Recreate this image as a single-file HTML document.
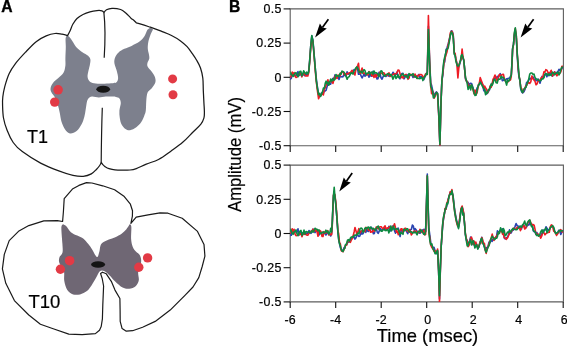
<!DOCTYPE html>
<html><head><meta charset="utf-8"><title>Figure</title>
<style>html,body{margin:0;padding:0;background:#fff;}body{width:567px;height:347px;overflow:hidden;}svg{display:block;}</style>
</head><body>
<svg width="567" height="347" viewBox="0 0 567 347" font-family="'Liberation Sans', Arial, sans-serif">
<defs><clipPath id="c1"><rect x="290.2" y="5.9" width="273.2" height="139.8"/></clipPath><clipPath id="c2"><rect x="290.2" y="162.1" width="273.2" height="139.8"/></clipPath></defs>
<rect width="567" height="347" fill="#fff"/>
<path d="M66.9,35.3 C66.9,35.3 68,35.6 68.9,36.5 C69.8,37.4 71,39.1 72.3,40.9 C73.6,42.7 74.9,45.6 76.6,47.5 C78.3,49.4 80.5,50.8 82.4,52.2 C84.3,53.6 86.8,54.6 88.1,55.8 C89.4,57 90.1,58 90.4,59.6 C90.7,61.2 90.1,63.4 89.8,65.3 C89.5,67.2 88.8,69.1 88.4,71.1 C88,73 87.4,75.3 87.6,77 C87.8,78.7 88.4,80.2 89.5,81.2 C90.6,82.2 91.9,82.9 94,83.3 C96.1,83.7 99.5,83.8 102.3,83.8 C105.1,83.8 108.7,83.5 111,83.3 C113.3,83.1 115,83.3 116.2,82.5 C117.4,81.7 118,80.2 118.1,78.3 C118.2,76.4 117.4,73.5 116.8,71 C116.2,68.5 114.7,65.5 114.4,63.2 C114.1,60.9 114.5,59.1 115.2,57.3 C115.9,55.5 117.1,53.8 118.6,52.4 C120.1,51 122.2,49.9 124.4,48.8 C126.6,47.7 129.1,47.1 131.6,45.9 C134.1,44.7 137.3,43.3 139.5,41.6 C141.7,39.9 143.2,37.9 144.6,35.9 C145.9,33.9 146.6,30.9 147.6,29.6 C148.6,28.3 150.3,27.9 150.3,27.9 C150.3,27.9 152.9,28.1 152.9,29.2 C152.9,30.3 151.3,32.3 150.6,34.4 C149.8,36.5 148.9,39.2 148.4,41.6 C147.9,44 147.7,46.7 147.8,48.8 C147.9,50.9 148.7,52.6 148.9,54.2 C149.2,55.8 149.5,57 149.3,58.4 C149.1,59.8 147.8,61.4 147.5,62.8 C147.2,64.1 147,65.2 147.6,66.5 C148.2,67.8 149.6,68.9 150.8,70.5 C152,72.1 153.8,74.3 154.6,76.3 C155.4,78.3 155.9,80.3 155.4,82.3 C154.9,84.3 153.1,86.5 151.8,88.2 C150.5,89.9 148.5,90.4 147.6,92.4 C146.7,94.5 146.6,97.5 146.3,100.5 C146,103.5 146.2,108 145.8,110.6 C145.5,113.2 144.9,114.1 144.2,116 C143.4,117.9 142.6,120.2 141.3,122.1 C140,124 138.2,125.9 136.3,127.2 C134.4,128.6 131.8,129.9 130,130.2 C128.2,130.5 126.9,129.9 125.5,129 C124.1,128.1 122.5,126.3 121.6,124.5 C120.6,122.7 120.2,120.3 119.8,118 C119.4,115.7 119.2,113.1 119.4,110.6 C119.6,108.1 120.8,105 120.8,103 C120.8,101 120.2,99.4 119.4,98.4 C118.6,97.4 117.1,97.3 116,97 C114.9,96.7 114.4,96.6 112.7,96.5 C111,96.4 108.1,96.3 105.8,96.5 C103.5,96.7 101.1,97.4 98.8,97.4 C96.5,97.4 93.8,96.3 92,96.5 C90.2,96.7 89.1,97.6 88.2,98.8 C87.3,100 87,101.6 86.6,103.5 C86.2,105.4 86,107.8 85.6,110 C85.2,112.2 85,114.6 84.3,117 C83.6,119.4 82.9,121.9 81.6,124.2 C80.3,126.5 78.5,129.5 76.6,131 C74.7,132.5 72.2,133.5 70.4,133.4 C68.6,133.3 67.1,132.1 65.6,130.2 C64.1,128.3 62.6,124.9 61.6,122 C60.6,119.1 60.3,115.5 59.8,113 C59.3,110.5 58.9,108.8 58.4,107 C57.9,105.2 57.6,104.2 57,102.5 C56.4,100.8 55.6,98.7 54.7,97 C53.8,95.3 52.1,93.7 51.4,92.2 C50.7,90.7 50.3,89.5 50.6,87.9 C50.9,86.4 51.7,84.6 53,82.9 C54.3,81.2 56.8,79.5 58.6,77.8 C60.4,76.1 62.5,74.5 63.6,72.5 C64.7,70.5 65.1,67.9 65.4,65.5 C65.7,63.1 65.3,61.1 65.4,58 C65.5,54.9 65.8,49.9 65.8,46.6 C65.8,43.4 65.4,40.4 65.6,38.5 C65.8,36.6 66.9,35.3 66.9,35.3Z" fill="#7d808d"/>
<path d="M103.9,12.6 C103.9,12.6 105.2,10.5 106.5,9.8 C107.8,9.1 109.7,8.4 112,8.3 C114.3,8.2 118.3,8.7 120.6,9.5 C122.9,10.3 124.1,11.6 125.8,13 C127.5,14.4 129.6,16.9 131,18.2 C132.4,19.4 133.1,19.7 134,20.5 C134.9,21.3 136.3,22.8 136.3,22.8 C136.3,22.8 139.4,23.6 141.7,24.3 C144,25 147.1,26.1 150.3,27.2 C153.6,28.3 157.7,29.8 161.2,31.2 C164.7,32.6 168.3,33.9 171.5,35.5 C174.7,37.1 177.6,38.8 180.2,40.7 C182.8,42.6 185.1,44.5 187.1,46.7 C189.1,48.9 190.7,51.4 192.3,53.7 C193.9,56 195.4,58.1 196.8,60.5 C198.2,62.9 199.5,65.1 200.5,68 C201.5,70.9 202.3,74.3 202.8,78 C203.3,81.7 203.1,86.3 203.3,90.4 C203.5,94.5 203.7,98.9 203.9,102.5 C204.1,106.1 204.4,109.4 204.4,112 C204.4,114.6 204.5,116.1 203.9,118.1 C203.3,120.1 202.8,121.8 200.9,124.1 C199.1,126.4 195.8,129.2 192.8,132.2 C189.8,135.2 186.4,139.1 182.7,142.3 C179,145.5 174.6,148.5 170.6,151.4 C166.6,154.3 162.6,157.4 158.5,159.5 C154.4,161.6 150,162.6 146.3,164.1 C142.6,165.6 139,167.6 136.3,168.6 C133.6,169.6 132.4,169.8 130,170 C127.6,170.2 124.6,170 122.1,170 C119.6,170 117.2,170 115,169.8 C112.8,169.6 110.7,169.1 109,168.6 C107.3,168.1 106.1,167.3 105,166.6 C103.9,165.9 103.2,165.1 102.6,164.4 C102,163.7 101.2,162.4 101.2,162.4 C101.2,162.4 100.5,164.4 99.7,165.5 C98.9,166.6 98,167.8 96.6,169.2 C95.2,170.6 93.5,172.7 91.3,173.9 C89.1,175.1 86.2,176.1 83.2,176.3 C80.2,176.5 77.1,176.2 73,175.3 C68.9,174.4 64.2,172.9 58.8,170.9 C53.4,168.9 46.7,166.3 40.6,163.1 C34.5,159.9 26.9,155 22.3,151.6 C17.7,148.2 15.7,146.1 13.2,142.5 C10.7,138.9 8.7,134.4 7.1,130.3 C5.5,126.2 4.2,122 3.5,118 C2.8,114 2.7,109.5 2.6,106 C2.5,102.5 2.4,100.2 2.8,97 C3.1,93.8 3.7,90.7 4.7,86.8 C5.8,82.9 7.3,77.7 9.1,73.8 C10.9,69.9 12.8,67.1 15.6,63.4 C18.4,59.7 22.5,55.4 26,51.7 C29.5,48.1 33.1,44.1 36.5,41.5 C39.9,38.9 43.1,37.2 46.2,35.9 C49.3,34.6 52.4,33.8 55,33.5 C57.6,33.2 59.9,33.9 62,34.2 C64.1,34.6 67.6,35.6 67.6,35.6 C67.6,35.6 69.2,32.7 70.1,30.8 C71,28.9 71.6,26.4 72.8,24.3 C74,22.2 75.3,20.1 77,18.5 C78.7,16.9 80.8,15.6 83,14.5 C85.2,13.4 87.7,12.5 90,11.8 C92.3,11.2 95,10.8 97,10.6 C99,10.4 100.8,10.5 102,10.8 C103.2,11.1 103.9,12.6 103.9,12.6Z" fill="none" stroke="#1a1a1a" stroke-width="1.25" stroke-linejoin="round"/>
<path d="M103.9,12.6 C105.3,25 105.2,42 104.2,57.8" fill="none" stroke="#1a1a1a" stroke-width="1.2"/>
<path d="M102.3,107.8 C101.7,125 101.3,150 101.2,162.4" fill="none" stroke="#1a1a1a" stroke-width="1.2"/>
<ellipse cx="103.2" cy="89.2" rx="6.9" ry="3.5" fill="#141414"/>
<circle cx="58.1" cy="89.8" r="4.8" fill="#e23a45"/>
<circle cx="54.7" cy="102.1" r="4.7" fill="#e23a45"/>
<circle cx="172.6" cy="78.9" r="4.5" fill="#e23a45"/>
<circle cx="173.0" cy="94.8" r="4.5" fill="#e23a45"/>
<path d="M62.9,224.3 C62.9,224.3 64.8,224.8 66.1,226.1 C67.4,227.4 69.1,230.6 70.9,232.2 C72.8,233.8 75.1,234.5 77.2,235.6 C79.3,236.7 81.7,237.4 83.5,238.8 C85.3,240.2 86.8,242.3 88.3,244.1 C89.8,245.9 91.1,247.8 92.3,249.7 C93.5,251.5 94.5,254 95.4,255.2 C96.3,256.4 96.9,257.4 97.6,256.8 C98.3,256.2 98.9,253.3 99.4,251.5 C99.9,249.7 99.8,247.4 100.4,245.9 C101,244.4 101.4,243.7 102.8,242.6 C104.2,241.5 106.8,240.5 108.9,239.6 C111,238.7 113.2,238.2 115.3,237.2 C117.4,236.2 119.8,235.1 121.6,233.8 C123.4,232.5 125.1,230.9 126.4,229.3 C127.7,227.7 129.6,224.3 129.6,224.3 C129.6,224.3 131.1,224.1 131.3,226.5 C131.6,228.9 130.9,235.4 131.1,238.8 C131.3,242.2 131.9,244.6 132.7,246.7 C133.5,248.8 134.7,250.1 135.9,251.5 C137.1,252.9 139.1,253.6 140,255.4 C140.9,257.2 141.4,259.6 141.1,262.3 C140.8,265 138.6,268.5 138.2,271.5 C137.8,274.5 139.2,277.8 138.8,280.2 C138.4,282.6 137.2,284.8 135.6,286.2 C134,287.6 131.4,288.6 129.2,288.8 C127,289 124.9,288.8 122.6,287.6 C120.3,286.4 117.4,283.5 115.2,281.5 C113,279.5 111.4,277.2 109.6,275.5 C107.8,273.8 106.2,271.9 104.6,271.2 C103,270.5 101.2,270.1 99.8,271.2 C98.4,272.3 97.6,275.2 96.2,277.6 C94.8,280 93,283.1 91.5,285.4 C90,287.6 88.8,289.6 86.9,291.1 C85,292.6 82.3,293.8 80,294.4 C77.7,294.9 75.2,295.1 73.1,294.4 C71,293.7 68.8,292.2 67.3,290 C65.8,287.8 64.9,284.2 64.3,281 C63.7,277.8 64.7,274 63.9,271 C63.1,268 60.1,265.2 59.4,263 C58.6,260.8 58.9,259.2 59.4,257.5 C59.9,255.8 62,254.8 62.5,252.5 C63,250.2 62.6,247.6 62.4,243.8 C62.2,240.1 61.5,233 61.4,230 C61.3,227 61.4,226.9 61.6,226 C61.9,225.1 62.9,224.3 62.9,224.3Z" fill="#6f6774"/>
<path d="M62.6,221.5 L63.4,211.8 L64.2,198.6 L72.4,189.1 L78.9,185.4 L86.5,182.6 L91.9,183 L102.7,185.8 L114.6,189.7 L124.3,196.6 L130.4,204.2 L132.5,210.7 L132.4,216.1 L130.9,223.4 L136.2,217.1 L148.1,214.8 L160,212.8 L168,213.2 L182.2,218.2 L197.5,231.4 L204,244.4 L204.9,256.1 L202.2,266.5 L198.8,277.6 L193,287 L185.2,295.1 L170.2,310.1 L155.2,321.4 L142.6,327.2 L132.6,330.7 L126.3,331.2 L122.1,328.6 L120.2,321.4 L120.1,310.1 L119.9,298.5 L115,290.1 L111.3,281.3 L106.3,273.8 L102.5,272.2 L100.6,273.6 L102.2,278.5 L103.6,286 L102.8,305 L102.4,318.8 L101.2,326.5 L99.5,330.2 L95.4,333.6 L82.1,334.7 L68.8,334.1 L53.2,328.8 L40.4,324.2 L28.8,315 L14.4,300.6 L5.8,283.3 L2.4,268.8 L4.3,254.4 L9.2,240.6 L18.5,231.3 L28.8,225.6 L43.8,220.9 L57.3,220.6Z" fill="none" stroke="#1a1a1a" stroke-width="1.2" stroke-linejoin="round"/>
<ellipse cx="98.1" cy="264.5" rx="7" ry="3.3" fill="#141414"/>
<circle cx="69.6" cy="260.7" r="4.8" fill="#e23a45"/>
<circle cx="60.4" cy="269.2" r="4.7" fill="#e23a45"/>
<circle cx="147.6" cy="257.9" r="4.7" fill="#e23a45"/>
<circle cx="138.8" cy="267.3" r="4.7" fill="#e23a45"/>
<path d="M290.2,8.9 H563.4 V145.7 H290.2 Z" fill="none" stroke="#5e5e5e" stroke-width="1.1"/>
<line x1="283.6" y1="8.9" x2="290.2" y2="8.9" stroke="#111" stroke-width="1.1"/>
<line x1="283.6" y1="43.1" x2="290.2" y2="43.1" stroke="#111" stroke-width="1.1"/>
<line x1="283.6" y1="77.3" x2="290.2" y2="77.3" stroke="#111" stroke-width="1.1"/>
<line x1="283.6" y1="111.5" x2="290.2" y2="111.5" stroke="#111" stroke-width="1.1"/>
<line x1="283.6" y1="145.7" x2="290.2" y2="145.7" stroke="#111" stroke-width="1.1"/>
<line x1="290.2" y1="145.7" x2="290.2" y2="151.9" stroke="#111" stroke-width="1.1"/>
<line x1="335.7" y1="145.7" x2="335.7" y2="151.9" stroke="#111" stroke-width="1.1"/>
<line x1="381.2" y1="145.7" x2="381.2" y2="151.9" stroke="#111" stroke-width="1.1"/>
<line x1="426.7" y1="145.7" x2="426.7" y2="151.9" stroke="#111" stroke-width="1.1"/>
<line x1="472.2" y1="145.7" x2="472.2" y2="151.9" stroke="#111" stroke-width="1.1"/>
<line x1="517.7" y1="145.7" x2="517.7" y2="151.9" stroke="#111" stroke-width="1.1"/>
<line x1="563.2" y1="145.7" x2="563.2" y2="151.9" stroke="#111" stroke-width="1.1"/>
<path d="M290.2,165.1 H563.4 V301.9 H290.2 Z" fill="none" stroke="#5e5e5e" stroke-width="1.1"/>
<line x1="283.6" y1="165.1" x2="290.2" y2="165.1" stroke="#111" stroke-width="1.1"/>
<line x1="283.6" y1="199.3" x2="290.2" y2="199.3" stroke="#111" stroke-width="1.1"/>
<line x1="283.6" y1="233.5" x2="290.2" y2="233.5" stroke="#111" stroke-width="1.1"/>
<line x1="283.6" y1="267.7" x2="290.2" y2="267.7" stroke="#111" stroke-width="1.1"/>
<line x1="283.6" y1="301.9" x2="290.2" y2="301.9" stroke="#111" stroke-width="1.1"/>
<line x1="290.2" y1="301.9" x2="290.2" y2="308.1" stroke="#111" stroke-width="1.1"/>
<line x1="335.7" y1="301.9" x2="335.7" y2="308.1" stroke="#111" stroke-width="1.1"/>
<line x1="381.2" y1="301.9" x2="381.2" y2="308.1" stroke="#111" stroke-width="1.1"/>
<line x1="426.7" y1="301.9" x2="426.7" y2="308.1" stroke="#111" stroke-width="1.1"/>
<line x1="472.2" y1="301.9" x2="472.2" y2="308.1" stroke="#111" stroke-width="1.1"/>
<line x1="517.7" y1="301.9" x2="517.7" y2="308.1" stroke="#111" stroke-width="1.1"/>
<line x1="563.2" y1="301.9" x2="563.2" y2="308.1" stroke="#111" stroke-width="1.1"/>
<g clip-path="url(#c1)">
<polyline points="289.5,76.3 290.4,79.2 291.3,78.3 292.2,74.6 293.2,74.6 294.1,74.5 295,75.4 296,75.1 297,74.9 298,71.6 299,75.7 300,74.1 300.9,75 301.8,73.9 302.8,73.4 303.7,74.9 304.6,75.6 305.5,74.3 306.6,74 307.8,74.1 308.7,70.6 309.6,61.5 310.7,46.6 311.8,35.8 312.9,39.9 314,52.7 315.2,67.5 316.3,78.6 317.4,87 318.6,94.4 319.6,96.5 320.5,95.9 321.5,92.9 322.5,93.8 323.4,93.1 324.4,90.5 325.3,90.9 326.1,90.2 327,86.9 327.9,84 328.7,84.9 329.6,83.9 330.7,84.1 331.8,79.9 332.9,78.4 334,78.6 335,74.9 336,77.5 337,77.8 338,76.6 339,79.4 340,76.4 341,76.6 342,76.9 343,76.8 344,73.9 345,75.7 346.1,75.9 347.1,71.8 348.2,74.2 349.2,73.8 350.3,73.7 351.2,72.2 352.1,72 353.1,70.6 354,69.7 354.9,70.3 355.9,68.5 356.8,67.9 357.7,69.5 358.5,74.3 359.4,74.1 360.3,73.8 361.2,76.2 362.1,78 363,76.1 364,73.7 365,76.2 366,75.4 367,74 368,74.8 369,77.2 370,74 371,76.3 372,76.2 373,71.3 374,72.5 375,74.3 376,75.7 377,79 378,78.7 379,72.3 380,73.8 381,77.8 382,79.2 383,76.9 384,75.2 385,76.2 386,76.5 387,75.7 388,74.9 389,76.2 390,76.2 391,75.6 392,75.1 393,72.3 394,73.8 395,75.1 396,74.4 397,72 398,76.9 399,77 400,78.9 401,75.1 402,73.5 403,73.3 404,78.9 405,77.3 406,75.6 407,74.6 408,76.7 409,74.5 410,74.8 411,74.9 412,75.1 413,77.4 414,76.2 415,76.9 416,76 417,76.3 418,75.9 419,74.4 420,78.1 421,76.5 422,76.8 422.9,78.3 423.8,79.6 424.6,77.8 425.5,75.5 426.4,73.2 427.3,72.1 428.4,26.2 429.6,59.9 430.7,82.8 431.6,85.3 432.5,89.6 433.4,93.3 434.2,95.7 435.5,92.8 436.5,91.9 437.6,93.7 438.8,116 439.9,145.7 441,101.2 441.9,80.3 442.9,74.8 443.9,61.6 444.7,62.1 445.5,54.4 446.3,49.4 447.1,47.6 448.2,43.9 449.3,39.2 450.3,35.7 451.3,30.8 452.2,31.2 453.2,34.7 454.3,53.3 455.1,55.2 455.8,58.7 456.9,63.5 457.9,68.2 459.2,65.9 460.3,61.8 461.2,58.2 462.1,56.9 463,57.9 463.8,60.7 464.7,69.7 465.5,79.1 466.4,80.9 467.2,81.9 468.1,82.2 469,86.3 469.9,83.6 470.7,83.4 471.6,83.5 472.9,87.4 474.1,91.9 475,91 475.9,93 477.1,87.9 478.4,86.1 479.3,83.7 480.2,81 481.6,83.1 482.7,84.4 483.8,90.8 484.7,89.4 485.6,93.1 486.6,93.9 487.5,92.9 488.4,91.5 489.4,90.1 490.3,86.4 491.2,84.9 492.1,84.1 493,81.5 493.9,79 495,78.1 496.1,78.5 497.2,76.3 498.3,77.4 499.3,75.3 500.2,73.7 501.2,75.7 502.3,80.7 503.4,80.2 504.4,79 505.5,80.5 506.6,78.7 507.6,78.5 508.7,78.2 509.8,77.9 510.6,76 511.3,74.5 512.1,60.8 512.6,48.3 513.5,43.9 514.4,34.8 515.3,30.6 516.3,38 517.3,56 518.1,69.1 519,77.2 519.9,80.1 520.8,89.3 521.8,92 522.7,93 523.9,91.8 525,89.5 525.9,85.5 526.7,82.3 527.6,83.1 528.7,80.1 529.8,78.5 530.8,79 531.9,76.6 532.9,76.8 534,79 535,79.4 536,80.4 537,80.9 538,79 539,80.3 540,83.2 541,79.5 542,76.4 542.9,76.9 543.9,77.2 544.8,74.5 545.8,74 546.9,76.8 548,73.5 549,75.7 550.1,74.9 551.2,72.6 552.4,76.2 553.5,74.5 554.6,71.8 555.8,74.2 556.9,72.4 558,71.4 559,69.3 560,70.4 560.9,70.3 561.9,68.5 562.9,66.7" fill="none" stroke="#2a44b0" stroke-width="1.6" stroke-linejoin="round"/>
<polyline points="289.5,77.1 290.4,77.5 291.3,75.7 292.2,72 293.2,74.9 294.1,72.5 295,76.3 296,77.4 297,77 298,75.8 299,74.2 300,73.1 300.9,73.5 301.8,76.9 302.8,74.5 303.7,74.2 304.6,73.5 305.5,75.9 306.6,75.8 307.8,76 308.7,72.8 309.6,63.1 310.7,48.5 311.8,37.8 312.9,41.5 314,54.6 315.2,70.2 316.3,81.6 317.4,90.6 318.6,98.8 319.6,95.9 320.5,96 321.5,93.9 322.5,94.1 323.4,94.9 324.4,88.5 325.3,87.8 326.1,85.3 327,83.2 327.9,79.7 328.7,83.3 329.6,81.7 330.7,81.2 331.8,81.4 332.9,83.5 334,79.5 335,76.4 336,77.4 337,78.5 338,75 339,75.6 340,76 341,72.7 342,72.1 343,71.5 344,74.6 345,73.5 346.1,75.2 347.1,73.4 348.2,73.7 349.2,72.7 350.3,72.5 351.2,71.5 352.1,70.3 353.1,73.5 354,72.5 354.9,75 355.9,69.5 356.8,67.1 357.7,65.6 358.5,63.3 359.4,72.5 360.3,73.5 361.2,70.7 362.1,68.1 363,73.1 364,73 365,73.7 366,74 367,74.6 368,74.8 369,71.5 370,72.8 371,73.9 372,76 373,73.7 374,77.5 375,74.9 376,77.1 377,73.7 378,75.8 379,75.6 380,72 381,73.4 382,73.4 383,72.8 384,72.8 385,74.9 386,74.6 387,75.5 388,73.7 389,72.8 390,76.5 391,75 392,74.7 393,74.7 394,73.6 395,74.3 396,73.8 397,72.7 398,70 399,70.3 400,73.5 401,77.8 402,76.3 403,78.2 404,76.8 405,74.7 406,74.4 407,76.7 408,79.3 409,78.2 410,74.2 411,74.2 412,75.2 413,74.4 414,76.8 415,74 416,76.1 417,78.5 418,75.2 419,75.4 420,74.6 421,74.6 422,75 422.9,76.7 423.8,78.3 424.6,75.9 425.5,74 426.4,73.7 427.3,74.5 428.4,15.6 429.6,61.4 430.7,85.8 431.6,93.7 432.5,91.2 433.4,94.8 434.2,98.2 435.5,95.3 436.5,92.5 437.6,94.5 438.8,116.2 439.9,145.7 441,103.2 441.9,80.5 442.9,72.4 443.9,63.3 444.7,59.3 445.5,56.5 446.3,53.9 447.1,51.4 448.2,45 449.3,40.3 450.3,33 451.3,31.4 452.2,31.6 453.2,35.1 454.3,52.9 455.1,53.2 455.8,58.2 456.9,64.4 457.9,77.9 459.2,63.9 460.3,61.2 461.2,59 462.1,49.1 463,57 463.8,60.2 464.7,70.1 465.5,78.2 466.4,81 467.2,81.5 468.1,85 469,87.5 469.9,85.3 470.7,85.7 471.6,85.4 472.9,89.4 474.1,93.9 475,90 475.9,94.9 477.1,92.6 478.4,85.1 479.3,83.7 480.2,77.6 481.6,81.3 482.7,84.2 483.8,88.5 484.7,86.1 485.6,88.1 486.6,89.3 487.5,92.9 488.4,90.6 489.4,88.9 490.3,85.8 491.2,87.3 492.1,84.1 493,79.5 493.9,77.9 495,75 496.1,78.2 497.2,81.3 498.3,77.3 499.3,74.6 500.2,75.6 501.2,75.4 502.3,74.6 503.4,74.2 504.4,79 505.5,81.4 506.6,82.8 507.6,82.3 508.7,80.9 509.8,80.3 510.6,79.6 511.3,76 512.1,62.1 512.6,49.6 513.5,44.9 514.4,33.9 515.3,28.5 516.3,35.5 517.3,54.1 518.1,66.9 519,75.4 519.9,80.3 520.8,87.4 521.8,89 522.7,92.4 523.9,89.6 525,88.3 525.9,85.9 526.7,85.3 527.6,83.3 528.7,82.5 529.8,83.4 530.8,81.8 531.9,76 532.9,78.8 534,80.1 535,81.2 536,84.8 537,83.9 538,81.3 539,80.9 540,80.4 541,78.1 542,77.1 542.9,76.6 543.9,71.8 544.8,72.2 545.8,69.7 546.9,70.2 548,72.4 549,73.3 550.1,72.4 551.2,70.3 552.4,76 553.5,74.2 554.6,72 555.8,73.6 556.9,75.9 558,74.1 559,73.1 560,73.1 560.9,71.7 561.9,66.2 562.9,66.3" fill="none" stroke="#ee1c24" stroke-width="1.6" stroke-linejoin="round"/>
<polyline points="289.5,74.7 290.4,72.3 291.3,74.3 292.2,75.3 293.2,76.5 294.1,74.4 295,73.3 296,72.6 297,74.8 298,76.7 299,73.4 300,71.3 300.9,71.4 301.8,75.9 302.8,74.2 303.7,70.8 304.6,72.4 305.5,73.8 306.6,72.1 307.8,73.9 308.7,71.7 309.6,62 310.7,46.4 311.8,35.6 312.9,41.2 314,53.7 315.2,67.3 316.3,80.8 317.4,88.1 318.6,94.6 319.6,93.4 320.5,96.5 321.5,94.3 322.5,91.9 323.4,88.1 324.4,88.2 325.3,83.1 326.1,81.2 327,83.6 327.9,82 328.7,85.2 329.6,82.9 330.7,79 331.8,81.2 332.9,78.9 334,80.1 335,79.3 336,74.6 337,75.9 338,75.9 339,76.5 340,73.4 341,74.2 342,71.1 343,71.6 344,72.2 345,74.2 346.1,76.4 347.1,79.3 348.2,77 349.2,76.8 350.3,74.2 351.2,72.8 352.1,73.3 353.1,74 354,71.1 354.9,69.7 355.9,68 356.8,66.9 357.7,67.8 358.5,70.2 359.4,72.4 360.3,72 361.2,71.1 362.1,73.1 363,71.6 364,69.7 365,70.6 366,74.6 367,73.2 368,73.2 369,71.8 370,74.4 371,72.3 372,72.1 373,74.3 374,71 375,72.8 376,72.9 377,73.1 378,74.7 379,76.7 380,73.6 381,70.8 382,71.2 383,74.7 384,75.5 385,76.2 386,74.7 387,74.3 388,73.7 389,74 390,75.3 391,74.3 392,76.4 393,79.1 394,76.6 395,75 396,78.5 397,77.1 398,74.7 399,77.8 400,77.3 401,75 402,74.7 403,73.9 404,76 405,76 406,75.5 407,77.1 408,78.2 409,73.5 410,75.3 411,74.7 412,75 413,73.6 414,76.2 415,77 416,76.3 417,78.3 418,78.4 419,78.4 420,78.6 421,78 422,77.6 422.9,80.6 423.8,78 424.6,76.7 425.5,75.9 426.4,73.6 427.3,74.2 428.4,29.5 429.6,63.1 430.7,86.1 431.6,88.1 432.5,91.4 433.4,97.8 434.2,97.5 435.5,93.7 436.5,92.7 437.6,93.5 438.8,113.4 439.9,144.3 441,102.3 441.9,80.7 442.9,69.6 443.9,60.5 444.7,57.3 445.5,54.3 446.3,49.6 447.1,49.7 448.2,47.9 449.3,41.9 450.3,35.3 451.3,31.9 452.2,33 453.2,37 454.3,54.4 455.1,55.3 455.8,60.7 456.9,64.6 457.9,66.2 459.2,64.7 460.3,61.3 461.2,55.7 462.1,54.6 463,57.6 463.8,60.4 464.7,69.5 465.5,77.6 466.4,80.3 467.2,83.4 468.1,89.4 469,87.4 469.9,85.8 470.7,89.9 471.6,84.8 472.9,88 474.1,93.2 475,95.4 475.9,95.3 477.1,90.7 478.4,84.7 479.3,84.4 480.2,82.3 481.6,84.7 482.7,86.8 483.8,88.5 484.7,89.5 485.6,94.8 486.6,92.1 487.5,92.9 488.4,89.7 489.4,89.3 490.3,87.4 491.2,83.9 492.1,85.3 493,83.3 493.9,79.5 495,79.5 496.1,82.8 497.2,83.1 498.3,79 499.3,79.2 500.2,79.1 501.2,76.2 502.3,77.4 503.4,77.6 504.4,79.5 505.5,81 506.6,85.1 507.6,79.9 508.7,81.1 509.8,79.5 510.6,77.1 511.3,75 512.1,59.8 512.6,48.9 513.5,44.4 514.4,32.4 515.3,27.9 516.3,36.2 517.3,55 518.1,63.4 519,75.6 519.9,80.5 520.8,88.8 521.8,91.4 522.7,92.5 523.9,89.1 525,88 525.9,87.4 526.7,84.7 527.6,82.4 528.7,79.3 529.8,74 530.8,73 531.9,73 532.9,74.4 534,74 535,77.6 536,78.8 537,79.2 538,79.5 539,80.6 540,80.9 541,80.3 542,78.8 542.9,79 543.9,77.8 544.8,74.5 545.8,73.4 546.9,74.2 548,75.4 549,73.8 550.1,74.8 551.2,75.3 552.4,72.2 553.5,73 554.6,74.8 555.8,73.1 556.9,73.1 558,72 559,74.9 560,72.8 560.9,69.3 561.9,67.2 562.9,66.9" fill="none" stroke="#0d8a40" stroke-width="1.6" stroke-linejoin="round"/>
</g><g clip-path="url(#c2)">
<polyline points="289.5,233.1 290.4,235.4 291.3,235.3 292.2,231.8 293.2,230.8 294.1,230.7 295,231.8 296,231.9 297,231.9 298,228.8 299,235.2 300,232.4 301,233.8 302,233 303,232.9 304,234.2 305,233.4 306,233.2 307,233 308,233.3 309,230.6 310,231.4 311,233.3 312,231.1 313,229 314,231 315,232.6 316,230.6 317,229.9 318,233.1 319,235 320,233.3 321,232.7 322,234.1 323,234.7 324,233 325,233.4 325.9,235 326.9,233.5 327.8,232.7 328.8,234.1 329.7,234.4 330.7,236 331.6,233.8 332.3,223.2 332.9,208.1 333.5,195.6 334.2,193.6 334.8,195.7 335.8,203.9 336.8,216.7 337.9,232.4 338.7,239.5 339.5,243.4 340.4,247.8 341.2,249.2 342.3,251.2 343.1,250.6 344,247.8 344.8,247.3 345.6,245.1 346.6,244.9 347.5,242.8 348.5,242 349.4,241.6 350.4,239.4 351.3,239 352.2,237.6 353.2,237.5 354.1,236.8 355,239.1 356,237.7 356.9,235.3 357.9,235.4 358.9,236.4 359.9,236.1 361,231.4 362,234.1 363,233.7 364,231.7 364.9,229.9 365.9,232.4 366.8,229.3 367.7,231.2 368.7,231.5 369.6,228.4 370.6,227.6 371.5,227.3 372.5,230.6 373.4,233.8 374.4,233.4 375.3,228.8 376.3,228.6 377.3,232.4 378.3,233.3 379.3,230.9 380.3,228.5 381.3,230.4 382.3,229.7 383.2,229.1 384.2,228 385.1,229.7 386.1,229.3 387.1,228.7 388,229 388.9,226.4 389.9,227.4 390.8,231 391.7,227.8 392.7,226 393.6,228.5 394.5,230.8 395.5,233.2 396.4,229.9 397.3,228.6 398.3,228.2 399.2,232.1 400.1,236.5 401.1,230.5 402,230.1 403,232.1 403.9,229.8 404.9,230.5 405.8,229.9 406.8,231.8 407.7,233.7 408.6,231.6 409.6,232.1 410.5,229.7 411.4,229.3 412.4,225 413.3,226 414.2,230.2 415.2,228.7 416.1,229.8 417.1,231.4 418,231.5 419,232.9 420,233.3 421,231.2 422,231.1 422.9,229.7 423.8,229.4 424.7,229.5 425.6,231.5 426.6,199.4 427.3,174 428.1,203.4 428.8,227.6 429.8,235.1 430.7,242.2 431.9,247.1 433,247.3 434,247.3 435,250.4 436,253.3 436.8,253.7 437.6,251 438.6,271.3 439.5,299 440.3,270.9 441.2,246.7 441.7,239.5 442.6,226.9 443.4,220 444.5,213.4 445.2,208.7 446,209.1 446.8,205.8 447.5,203.7 448.2,199.2 449,196.6 450.3,192.1 451.2,192.3 451.9,191.9 453,195.4 453.8,202.6 454.7,210.1 456,217.3 456.9,222.1 457.7,224.8 458.5,227.5 459.8,218.4 461,210.1 462.1,207.3 462.9,209 463.6,213.8 464.5,223.4 465.4,234.6 466.5,240.5 467.2,240.1 468,244.7 468.9,244.4 469.7,240.7 470.6,237 471.5,238.2 472.3,240.2 473.2,244.6 474,242.1 474.9,246.5 475.8,246.3 476.6,244.3 477.8,248.5 478.9,247.3 480,242.4 480.9,240.7 481.8,237.3 482.6,241.5 483.5,244.4 484.4,246.6 485.3,249.4 486.2,247.5 487,249.4 487.9,246.9 489,242.1 490.2,242.5 491.3,239.9 492.2,241.3 493.1,238.7 493.9,239.9 494.8,238.6 495.7,237.2 496.6,236.1 497.4,230.9 498.3,233.9 499.4,231.1 500.6,229.9 501.7,229.9 502.6,228.9 503.4,232.3 504.3,238 505.2,238.8 506.3,237.8 507.5,237.3 508.6,234.5 509.5,229.9 510.4,233.1 511.2,233 512.1,230.6 513.1,230.3 514,228.9 515,226.6 516.1,223.6 517.2,225.7 518.3,226.2 519.4,226.2 520.5,228.6 521.5,228.9 522.6,224.9 523.7,225.2 524.7,227.4 525.6,227.8 526.6,227 527.7,224.7 528.7,225.1 529.8,222.4 530.7,224.7 531.5,223.8 532.4,226.1 533.3,230.9 534.2,231.8 535.1,232 536,234.5 536.9,232.4 537.8,235 538.7,235 539.6,234.9 540.7,236.9 541.8,234.1 542.8,230 543.9,231.3 545,229.8 546,226.8 547.1,228.4 548.2,230.2 549.3,230 550.4,227.5 551.5,226.6 552.6,226.1 553.7,228.3 554.7,231.7 555.7,232.9 556.6,233.4 557.6,233.5 558.7,230.3 559.8,231.6 560.8,234.4 561.9,231.9 562.9,230.4" fill="none" stroke="#2a44b0" stroke-width="1.6" stroke-linejoin="round"/>
<polyline points="289.5,233.2 290.4,233 291.3,231.6 292.2,228.7 293.2,232.1 294.1,229.3 295,234 296,235.7 297,235.5 298,235 299,234.6 300,234.1 301,233.9 302,236.7 303,233.9 304,233.5 305,234.5 306,234.1 307,235.1 308,235.1 309,233.2 310,232.6 311,231.3 312,231.5 313,229.2 314,231.2 315,231.2 316,229.5 317,231.6 318,236.3 319,230.6 320,230.6 321,231.6 322,236.4 323,236.5 324,231.5 325,233.3 325.9,233 326.9,232 327.8,230.6 328.8,235 329.7,233.5 330.7,234.8 331.6,234.7 332.3,224.6 332.9,208.1 333.5,194.7 334.2,197.3 334.8,194.2 335.8,201.9 336.8,214.1 337.9,230.6 338.7,234 339.5,242.6 340.4,244 341.2,250.6 342.3,251.5 343.1,251.6 344,249.4 344.8,248.1 345.6,245.5 346.6,245 347.5,241.7 348.5,240 349.4,241.7 350.4,242.3 351.3,240.2 352.2,238.6 353.2,235.6 354.1,232 355,227.5 356,230.9 356.9,234.5 357.9,231.5 358.9,228.6 359.9,233 361,231.2 362,230.7 363,230.3 364,231.2 364.9,231.6 365.9,227.2 366.8,228.3 367.7,228.5 368.7,230.4 369.6,227.9 370.6,232.2 371.5,231.8 372.5,232 373.4,229.1 374.4,231.1 375.3,229.7 376.3,226.9 377.3,228.3 378.3,228.8 379.3,227.2 380.3,226.8 381.3,226.7 382.3,228.4 383.2,228.6 384.2,227 385.1,225.8 386.1,229.6 387.1,228 388,227.9 388.9,227.6 389.9,226.4 390.8,228.6 391.7,227.8 392.7,226.8 393.6,226.1 394.5,223.8 395.5,227.6 396.4,232.2 397.3,231.1 398.3,234.8 399.2,231.4 400.1,230.7 401.1,228.7 402,228.9 403,232.3 403.9,230.8 404.9,228.2 405.8,228.4 406.8,230.8 407.7,230.4 408.6,231.8 409.6,229.5 410.5,232.1 411.4,234.9 412.4,233.5 413.3,231.8 414.2,231.3 415.2,231.3 416.1,231 417.1,233.8 418,232.4 419,232.4 420,229.3 421,231 422,232.5 422.9,232.1 423.8,230.1 424.7,234.8 425.6,234.4 426.6,201.5 427.3,175.9 428.1,208.3 428.8,232 429.8,238.2 430.7,244.8 431.9,247.6 433,248.6 434,251.2 435,250.6 436,252.8 436.8,251.7 437.6,249.1 438.6,269.9 439.5,301.9 440.3,272.4 441.2,246 441.7,238.7 442.6,225.7 443.4,218.9 444.5,213 445.2,208.2 446,209.1 446.8,203 447.5,201.6 448.2,199.6 449,196.7 450.3,191.6 451.2,193.2 451.9,189.6 453,197.6 453.8,204.6 454.7,211.3 456,219.8 456.9,223.7 457.7,226.3 458.5,226.5 459.8,217.8 461,208.6 462.1,206 462.9,209.5 463.6,212.4 464.5,222.6 465.4,233.6 466.5,239.1 467.2,241.5 468,246.6 468.9,245.6 469.7,243.8 470.6,238.2 471.5,237.2 472.3,240.5 473.2,244.4 474,241 474.9,245.2 475.8,242 476.6,244.6 477.8,248.3 478.9,246.2 480,242.1 480.9,243.1 481.8,237.5 482.6,239.6 483.5,243.3 484.4,243.4 485.3,250.2 486.2,253.4 487,249 487.9,247.1 489,244.1 490.2,240.6 491.3,237.7 492.2,234.1 493.1,237.5 493.9,240.4 494.8,237.9 495.7,237.7 496.6,236.1 497.4,234.7 498.3,232.9 499.4,232 500.6,231.6 501.7,231.2 502.6,234.4 503.4,233.2 504.3,237.7 505.2,238 506.3,239.3 507.5,237.9 508.6,235.5 509.5,233.6 510.4,232.4 511.2,231.1 512.1,230.6 513.1,228.8 514,228.2 515,229 516.1,229.1 517.2,227.1 518.3,228.2 519.4,228 520.5,230.6 521.5,226.9 522.6,226.9 523.7,225 524.7,229 525.6,228.4 526.6,225.6 527.7,223.2 528.7,221.5 529.8,220.4 530.7,222.3 531.5,223.8 532.4,225.6 533.3,224.5 534.2,225.4 535.1,229.7 536,234.2 536.9,234.9 537.8,234 538.7,234.4 539.6,235.2 540.7,238.1 541.8,235.9 542.8,232.3 543.9,232.5 545,234.8 546,233.6 547.1,232.6 548.2,232.5 549.3,232.3 550.4,226.5 551.5,224.8 552.6,226.1 553.7,231.1 554.7,231.9 555.7,233.2 556.6,235.4 557.6,233.9 558.7,231.8 559.8,230.7 560.8,229.5 561.9,231.9 562.9,231.9" fill="none" stroke="#ee1c24" stroke-width="1.6" stroke-linejoin="round"/>
<polyline points="289.5,231.7 290.4,229.2 291.3,231.2 292.2,233.4 293.2,234.3 294.1,231.8 295,231.5 296,229.9 297,233.7 298,235.7 299,232.9 300,231.1 301,230.4 302,235.4 303,233.6 304,230.1 305,234.1 306,231.5 307,231.8 308,232 309,231.8 310,233 311,232 312,230.7 313,232.3 314,230.8 315,228.3 316,228.9 317,229.2 318,230.7 319,229.9 320,233.2 321,233.7 322,232.7 323,231.9 324,232.9 325,232.6 325.9,230.2 326.9,232.2 327.8,231.1 328.8,234.1 329.7,233.2 330.7,228.4 331.6,232 332.3,220.9 332.9,206.7 333.5,195.2 334.2,187.2 334.8,195 335.8,204.8 336.8,216.6 337.9,231.9 338.7,239.4 339.5,243.6 340.4,246 341.2,249.4 342.3,251.3 343.1,251.4 344,249 344.8,248.3 345.6,244.5 346.6,243.9 347.5,240.3 348.5,239.7 349.4,241.2 350.4,238 351.3,237 352.2,236.9 353.2,237.4 354.1,235.4 355,235 356,235.5 356.9,234.6 357.9,233 358.9,234 359.9,229.2 361,228 362,228.4 363,232.4 364,231 364.9,228.2 365.9,227.7 366.8,229 367.7,227.3 368.7,227.1 369.6,229.2 370.6,227.2 371.5,228 372.5,229 373.4,228.4 374.4,229.5 375.3,230.4 376.3,228.4 377.3,226.9 378.3,226 379.3,229.3 380.3,230.3 381.3,231.2 382.3,231.2 383.2,229.7 384.2,229.5 385.1,230.5 386.1,230.6 387.1,229.9 388,229.9 388.9,232.9 389.9,229.2 390.8,226 391.7,230.8 392.7,228 393.6,226.3 394.5,229.4 395.5,229.2 396.4,228.7 397.3,228.8 398.3,229.6 399.2,232.2 400.1,234.2 401.1,232.7 402,233.3 403,234.3 403.9,229.1 404.9,230.3 405.8,230.2 406.8,228.7 407.7,228.7 408.6,231 409.6,232 410.5,231.5 411.4,231.7 412.4,233.1 413.3,232.3 414.2,232.8 415.2,231.9 416.1,233 417.1,234.8 418,231.6 419,231.1 420,231.9 421,229.9 422,231 422.9,232.8 423.8,234.2 424.7,234.6 425.6,231.6 426.6,199.1 427.3,175.8 428.1,206.6 428.8,230 429.8,240.3 430.7,244.7 431.9,243.9 433,249.2 434,250.3 435,253.6 436,253.6 436.8,251.2 437.6,250.5 438.6,270.1 439.5,295.7 440.3,269.7 441.2,245.9 441.7,238.5 442.6,224.9 443.4,217.5 444.5,212.8 445.2,209.1 446,208.3 446.8,203.4 447.5,204.2 448.2,202.1 449,196.4 450.3,193.6 451.2,194.3 451.9,190.6 453,195.9 453.8,203.7 454.7,212.1 456,219.3 456.9,222.3 457.7,225.4 458.5,228.6 459.8,220.8 461,209.6 462.1,207.4 462.9,215.2 463.6,213.3 464.5,223 465.4,234.7 466.5,241.6 467.2,245.8 468,246 468.9,242.1 469.7,242.1 470.6,239.6 471.5,244.9 472.3,242.2 473.2,240.6 474,243.6 474.9,248 475.8,245.8 476.6,244.6 477.8,249.1 478.9,246.3 480,243.3 480.9,239.4 481.8,238.4 482.6,242.8 483.5,244.3 484.4,247.2 485.3,250.3 486.2,252.3 487,250.1 487.9,247.2 489,245.8 490.2,241.2 491.3,237.8 492.2,236.3 493.1,237.2 493.9,238.9 494.8,239.5 495.7,238.3 496.6,238.3 497.4,236.7 498.3,232.1 499.4,233.5 500.6,227.7 501.7,230.6 502.6,232.8 503.4,228.5 504.3,230.6 505.2,235.8 506.3,234.7 507.5,232.1 508.6,232.3 509.5,230.8 510.4,232 511.2,231 512.1,229.5 513.1,228.4 514,229.3 515,229.4 516.1,229.8 517.2,229.4 518.3,227.8 519.4,227.1 520.5,226.1 521.5,227.2 522.6,224.9 523.7,223.5 524.7,221.1 525.6,224.7 526.6,225.6 527.7,222.1 528.7,220.6 529.8,219.9 530.7,223.3 531.5,226.6 532.4,226.2 533.3,230 534.2,231.2 535.1,231.7 536,234.3 536.9,235.6 537.8,234.9 538.7,236.2 539.6,235.2 540.7,231.8 541.8,230 542.8,233 543.9,230 545,229.8 546,227.9 547.1,232.7 548.2,230.7 549.3,229.4 550.4,227.5 551.5,226.7 552.6,225.7 553.7,227.2 554.7,231 555.7,233.6 556.6,233 557.6,232.6 558.7,231.3 559.8,230.2 560.8,231.3 561.9,230.6 562.9,230.7" fill="none" stroke="#0d8a40" stroke-width="1.6" stroke-linejoin="round"/>
</g>
<line x1="328.4" y1="19.2" x2="322.4" y2="27.4" stroke="#000" stroke-width="1.7"/><path d="M315.1,37.4 L319.9,23.6 L322.4,27.4 L326.8,28.6 Z" fill="#000"/>
<line x1="533.6" y1="19.3" x2="527.8" y2="27.3" stroke="#000" stroke-width="1.7"/><path d="M520.6,37.4 L525.3,23.5 L527.8,27.3 L532.3,28.5 Z" fill="#000"/>
<line x1="352.2" y1="172.9" x2="346.4" y2="181.2" stroke="#000" stroke-width="1.7"/><path d="M339.3,191.4 L343.8,177.5 L346.4,181.2 L350.8,182.4 Z" fill="#000"/>
<g font-size="12.4" fill="#000" letter-spacing="0.3" stroke="#000" stroke-width="0.2">
<text x="281.6" y="13.2" text-anchor="end">0.5</text>
<text x="281.6" y="47.4" text-anchor="end">0.25</text>
<text x="281.6" y="81.6" text-anchor="end">0</text>
<text x="281.6" y="115.8" text-anchor="end">-0.25</text>
<text x="281.6" y="150" text-anchor="end">-0.5</text>
<text x="281.6" y="169.4" text-anchor="end">0.5</text>
<text x="281.6" y="203.6" text-anchor="end">0.25</text>
<text x="281.6" y="237.8" text-anchor="end">0</text>
<text x="281.6" y="272" text-anchor="end">-0.25</text>
<text x="281.6" y="306.2" text-anchor="end">-0.5</text>
<text x="290.2" y="323.6" text-anchor="middle">-6</text>
<text x="335.7" y="323.6" text-anchor="middle">-4</text>
<text x="381.2" y="323.6" text-anchor="middle">-2</text>
<text x="427.8" y="323.6" text-anchor="middle">0</text>
<text x="473.3" y="323.6" text-anchor="middle">2</text>
<text x="518.8" y="323.6" text-anchor="middle">4</text>
<text x="564.3" y="323.6" text-anchor="middle">6</text>
</g>
<text x="427.5" y="342.2" text-anchor="middle" font-size="18.4" stroke="#000" stroke-width="0.2">Time (msec)</text>
<text transform="translate(241.2,154.5) rotate(-90)" text-anchor="middle" font-size="18" stroke="#000" stroke-width="0.2" textLength="115" lengthAdjust="spacingAndGlyphs">Amplitude (mV)</text>
<text transform="translate(1.3,12.4) scale(0.98,1)" font-size="16" font-weight="bold" stroke="#000" stroke-width="0.35">A</text>
<text transform="translate(229,11.9) scale(0.96,1)" font-size="16.3" font-weight="bold" stroke="#000" stroke-width="0.35">B</text>
<text x="27.1" y="142.9" font-size="18" stroke="#000" stroke-width="0.2">T1</text>
<text x="28.5" y="308.1" font-size="18.5" stroke="#000" stroke-width="0.2">T10</text>
</svg>
</body></html>
